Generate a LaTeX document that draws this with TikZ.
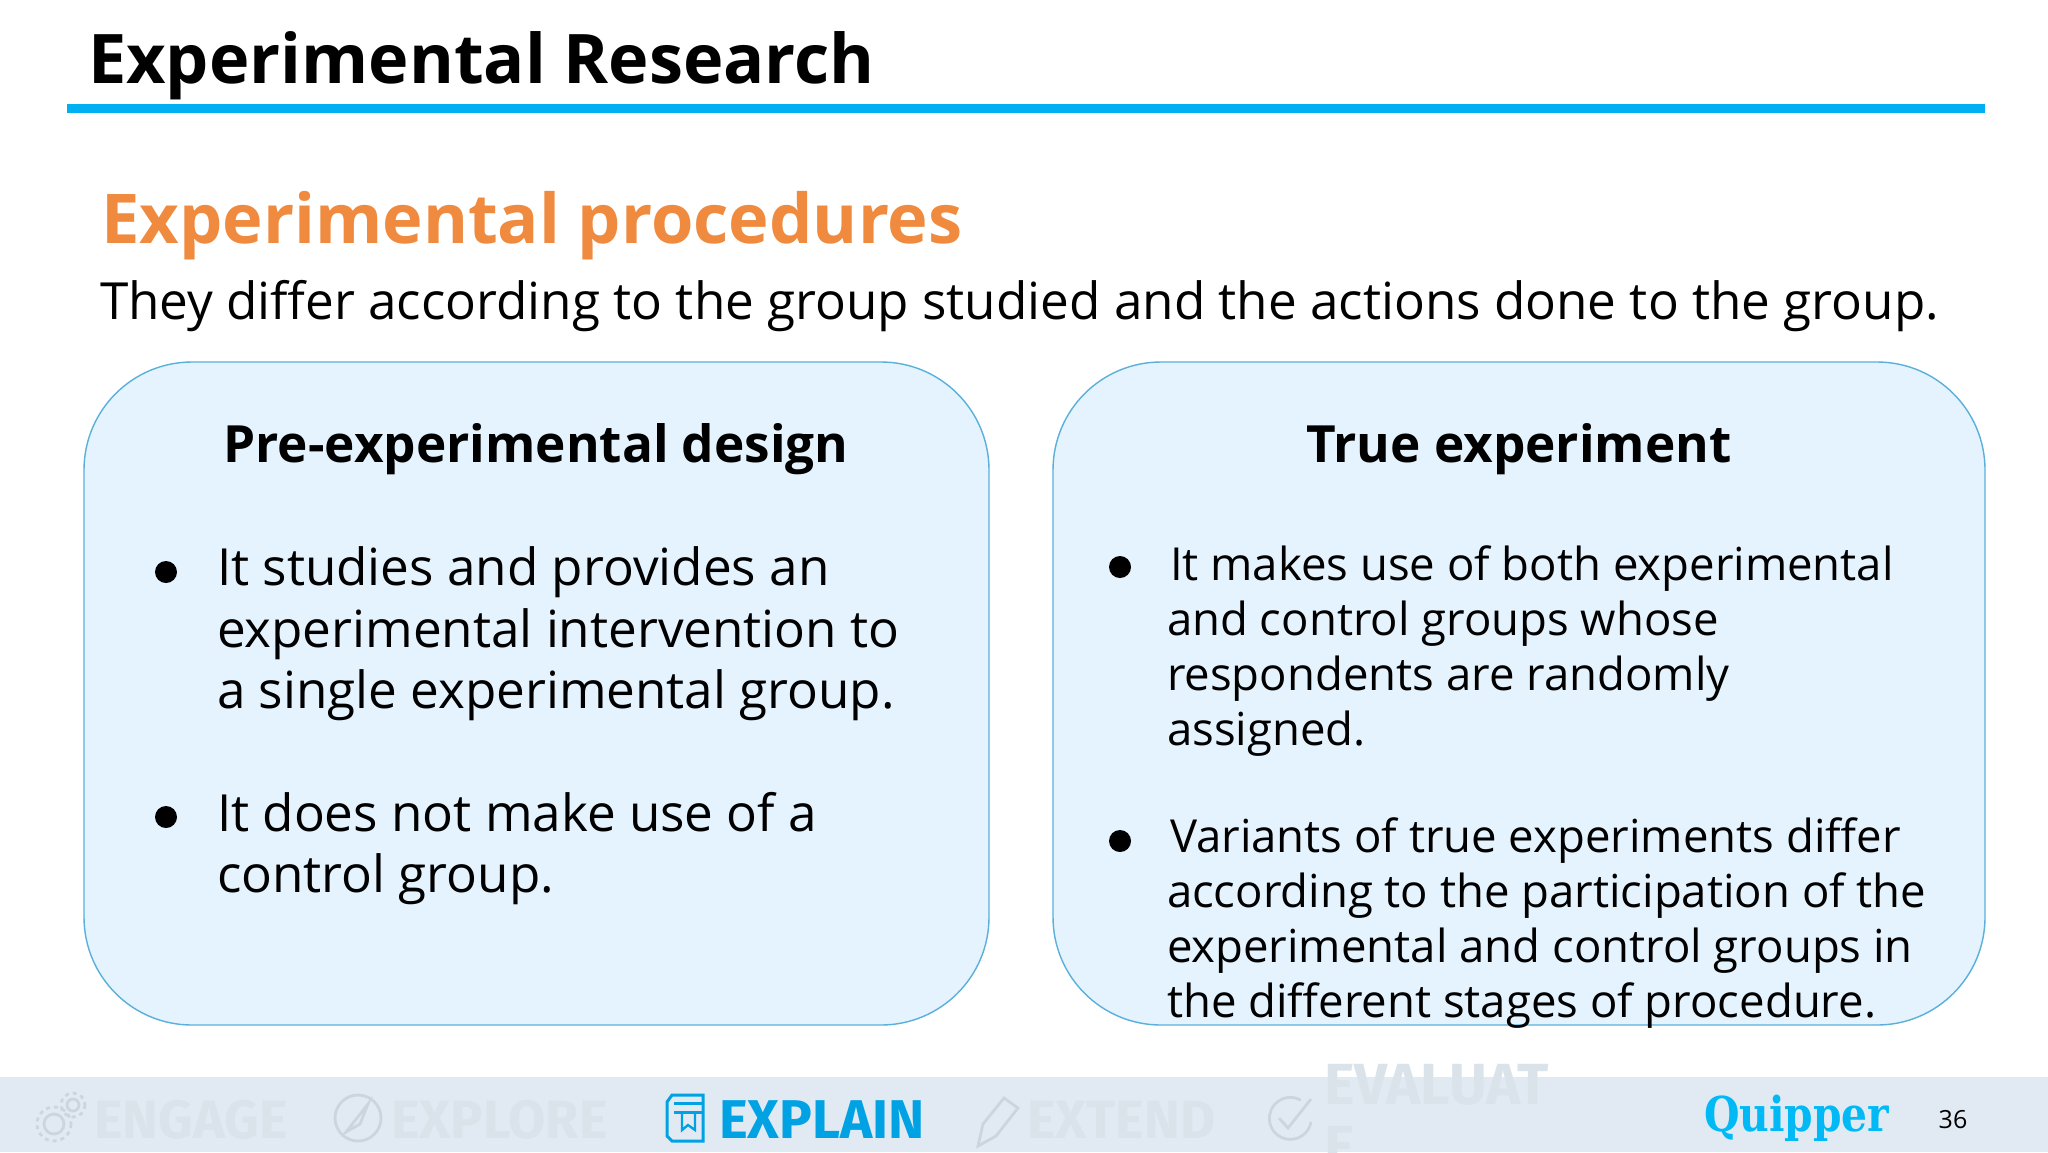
\documentclass[tikz,border=0pt]{standalone}
\usepackage{fontspec}
\setmainfont{Open Sans}
\newfontfamily\tabfont{Fira Sans}
\newfontfamily\logofont[FakeStretch=0.85]{DejaVu Serif}
\usetikzlibrary{positioning}
\pgfdeclarelayer{background}
\pgfdeclarelayer{foreground}
\pgfsetlayers{background,main,foreground}
\definecolor{rulecol}{HTML}{00B0F0}
\definecolor{headcol}{HTML}{EF8A3E}
\definecolor{boxfill}{HTML}{E4F3FD}
\definecolor{boxline}{HTML}{5AB0DA}
\definecolor{bandcol}{HTML}{E1EAF3}
\definecolor{fadecol}{HTML}{DAE2EA}
\definecolor{fadeicon}{HTML}{CDD5DC}
\definecolor{tabcol}{HTML}{00A2E3}
\definecolor{logocol}{HTML}{00B9F5}
\begin{document}
\begin{tikzpicture}[x=0.5pt,y=-0.5pt,
	inner sep=0pt,outer sep=0pt,
	designbox/.style={draw=boxline, line width=0.7pt, fill=boxfill, rounded corners=54pt},
	boxtitle/.style={font=\fontsize{25.65}{30}\selectfont\bfseries, anchor=base},
	bigtext/.style={font=\fontsize{25.6}{30.7}\selectfont, anchor=north west, align=left},
	smalltext/.style={font=\fontsize{22.75}{27.4}\selectfont, anchor=north west, align=left},
	bulletdot/.style={circle, fill=black, minimum size=11pt},
	fadetab/.style={font=\fontsize{27}{31}\tabfont\bfseries, text=fadecol, anchor=base west},
	iconline/.style={draw=fadeicon, line width=1.4pt},
	bookline/.style={draw=tabcol, line width=1.5pt},
	]
	\useasboundingbox (0,0) rectangle (2048,1152);
	\begin{pgfonlayer}{background}
	%Band and boxes
	\fill[white] (0,0) rectangle (2048,1152);
	\fill[bandcol] (0,1077) rectangle (2048,1152);
	\draw[designbox] (84,362) rectangle (989,1025);
	\draw[designbox] (1053,362) rectangle (1985,1025);
	\fill[rulecol] (67,104) rectangle (1985,113);
	\end{pgfonlayer}
	%Heading
	\node[anchor=base west, font=\fontsize{34.2}{40}\selectfont\bfseries] (title) at (88,83) {Experimental Research};
	\node[anchor=base west, font=\fontsize{34.3}{40}\selectfont\bfseries, text=headcol] (heading) at (101,243) {Experimental procedures};
	\node[anchor=base west, font=\fontsize{25.6}{30}\selectfont] (intro) at (100,319) {They differ according to the group studied and the actions done to the group.};
	%Left box
	\node[boxtitle] (preTitle) at (536,462) {Pre-experimental design};
	\node[bulletdot] (preDotA) at (166,572) {};
	\node[bigtext] (preItemA) at (217,547) {It studies and provides an\\experimental intervention to\\a single experimental group.};
	\node[bulletdot] (preDotB) at (166,817) {};
	\node[bigtext] (preItemB) at (217,792) {It does not make use of a\\control group.};
	%Right box
	\node[boxtitle] (trueTitle) at (1519,462) {True experiment};
	\node[bulletdot] (trueDotA) at (1120,567) {};
	\node[smalltext] (trueItemA) at (1167,546) {\hspace*{1.5pt}It makes use of both experimental\\and control groups whose\\respondents are randomly\\assigned.};
	\node[bulletdot] (trueDotB) at (1120,841) {};
	\node[smalltext] (trueItemB) at (1167,818) {\hspace*{1.5pt}Variants of true experiments differ\\according to the participation of the\\experimental and control groups in\\the different stages of procedure.};
	%Footer tabs
	\node[fadetab] (engage) at (94,1138) {ENGAGE};
	\node[fadetab] (explore) at (391,1138) {EXPLORE};
	\node[anchor=base west, font=\fontsize{27.3}{31}\tabfont\bfseries, text=tabcol] (explain) at (719,1138) {EXPLAIN};
	\node[fadetab] (extend) at (1027,1138) {EXTEND};
	\node[fadetab, anchor=north west, align=left, font=\fontsize{29}{31}\tabfont\bfseries] (evaluate) at (1324,1064) {EVALUAT\\E};
	\node[anchor=base west, font=\fontsize{24}{30}\logofont\bfseries, text=logocol] (logo) at (1704,1131) {Quipper};
	\node[anchor=base, font=\fontsize{12.5}{14}\selectfont] (page) at (1953,1128) {36};
	%Icons
	\draw[iconline] (54,1124) circle (10);
	\draw[iconline, dash pattern=on 2pt off 2pt] (54,1124) circle (17);
	\draw[iconline] (73,1105) circle (6);
	\draw[iconline, dash pattern=on 2pt off 2pt] (73,1105) circle (12);
	\draw[iconline] (358,1118) circle (23);
	\draw[iconline] (346,1132) -- (368,1104) -- (360,1124) -- cycle;
	\draw[bookline] (703,1095) -- (703,1141) -- (672,1141) -- (667,1136) -- (667,1102) -- (672,1095) -- cycle;
	\draw[bookline] (703,1112) -- (674,1112) (703,1103) -- (674,1103);
	\draw[bookline, line width=1.2pt] (682,1112) -- (682,1130) -- (688,1125) -- (695,1130) -- (695,1112);
	\draw[iconline] (978,1146) -- (983,1124) -- (1004,1098) -- (1018,1108) -- (996,1136) -- cycle;
	\draw[iconline] (1311,1122) arc (10:300:21);
	\draw[iconline] (1279,1118) -- (1288,1128) -- (1311,1099);
\end{tikzpicture}
\end{document}
